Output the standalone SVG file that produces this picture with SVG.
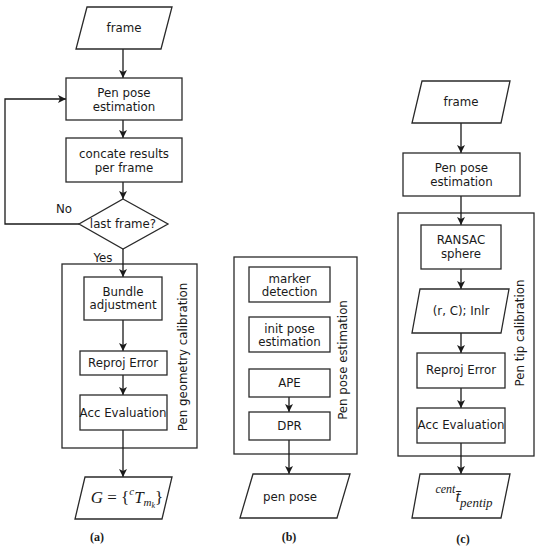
<svg xmlns="http://www.w3.org/2000/svg" width="540" height="550" viewBox="0 0 540 550">
<defs>
<marker id="arr" viewBox="0 0 10 10" refX="10" refY="5" markerWidth="8" markerHeight="8" markerUnits="userSpaceOnUse" orient="auto">
<path d="M0,0 L10,5 L0,10 L2.5,5 z" fill="#1a1a1a"/>
</marker>
<style>
.b{fill:#fff;stroke:#2a2a2a;stroke-width:1.3}
.c{fill:none;stroke:#2a2a2a;stroke-width:1.3}
.t{font-family:"DejaVu Sans",Verdana,sans-serif;font-size:11.8px;fill:#1a1a1a;text-anchor:middle}
.m{font-family:"Liberation Serif","Times New Roman",serif;font-style:italic;font-size:17px;fill:#1a1a1a;text-anchor:middle}
.lab{font-family:"Liberation Serif","Times New Roman",serif;font-weight:bold;font-size:12px;fill:#1a1a1a;text-anchor:middle}
.e{fill:none;stroke:#1a1a1a;stroke-width:1.3;marker-end:url(#arr)}
</style>
</defs>
<rect width="540" height="550" fill="#fff"/>

<!-- containers -->
<g id="cont-a"><rect class="c" x="62" y="264" width="135" height="184"/><text class="t" transform="translate(187,357) rotate(-90)">Pen geometry calibration</text></g>
<g id="cont-b"><rect class="c" x="234" y="257" width="123" height="197"/><text class="t" transform="translate(347,360) rotate(-90)">Pen pose estimation</text></g>
<g id="cont-c"><rect class="c" x="398" y="213" width="136" height="243"/><text class="t" transform="translate(524,333) rotate(-90)">Pen tip calibration</text></g>

<!-- connectors -->
<g id="connectors">
<line class="e" x1="123" y1="49" x2="123" y2="78"/>
<line class="e" x1="123" y1="120" x2="123" y2="138"/>
<line class="e" x1="123" y1="182" x2="123" y2="199"/>
<polyline class="e" points="79,224 5,224 5,99 66,99"/>
<line class="e" x1="123" y1="249" x2="123" y2="277"/>
<line class="e" x1="123" y1="320" x2="123" y2="351"/>
<line class="e" x1="123" y1="375" x2="123" y2="395"/>
<line class="e" x1="123" y1="430" x2="123" y2="477"/>
<line class="e" x1="289" y1="397" x2="289" y2="412"/>
<line class="e" x1="289" y1="440" x2="289" y2="474"/>
<line class="e" x1="461" y1="123" x2="461" y2="153"/>
<line class="e" x1="461" y1="196" x2="461" y2="225"/>
<line class="e" x1="461" y1="269" x2="461" y2="289"/>
<line class="e" x1="461" y1="333" x2="461" y2="353"/>
<line class="e" x1="461" y1="388" x2="461" y2="408"/>
<line class="e" x1="461" y1="443" x2="461" y2="474"/>
<text class="t" x="64" y="213">No</text>
<text class="t" x="103" y="262">Yes</text>
</g>

<!-- panel a -->
<g id="a-frame"><polygon class="b" points="87,7 172,7 161,49 76,49"/><text class="t" x="124" y="32">frame</text></g>
<g id="a-pose"><rect class="b" x="66" y="78" width="116" height="42"/><text class="t" x="124" y="97">Pen pose</text><text class="t" x="124" y="111">estimation</text></g>
<g id="a-concat"><rect class="b" x="66" y="138" width="116" height="44"/><text class="t" x="124" y="158">concate results</text><text class="t" x="124" y="172">per frame</text></g>
<g id="a-last"><polygon class="b" points="123,199 168,224 123,249 79,224"/><text class="t" x="123" y="228">last frame?</text></g>
<g id="a-bundle"><rect class="b" x="84" y="277" width="78" height="43"/><text class="t" x="123" y="296">Bundle</text><text class="t" x="123" y="309">adjustment</text></g>
<g id="a-reproj"><rect class="b" x="80" y="351" width="87" height="24"/><text class="t" x="123" y="367">Reproj Error</text></g>
<g id="a-acc"><rect class="b" x="80" y="395" width="87" height="35"/><text class="t" x="123" y="417">Acc Evaluation</text></g>
<g id="a-out"><polygon class="b" points="85,477 172,477 162,519 75,519"/>
<text class="m" x="127" y="503">G<tspan font-style="normal"> = {</tspan><tspan font-size="11" dy="-8">c</tspan><tspan dy="8">T</tspan><tspan font-size="11" dy="3">m</tspan><tspan font-size="8" dy="2">k</tspan><tspan font-style="normal" dy="-5">}</tspan></text></g>
<text class="lab" x="97" y="541">(a)</text>

<!-- panel b -->
<g id="b-marker"><rect class="b" x="249" y="267" width="81" height="35"/><text class="t" x="289.5" y="283">marker</text><text class="t" x="289.5" y="296">detection</text></g>
<g id="b-init"><rect class="b" x="249" y="317" width="81" height="35"/><text class="t" x="289.5" y="333">init pose</text><text class="t" x="289.5" y="346">estimation</text></g>
<g id="b-ape"><rect class="b" x="249" y="369" width="81" height="28"/><text class="t" x="289.5" y="387">APE</text></g>
<g id="b-dpr"><rect class="b" x="249" y="412" width="81" height="28"/><text class="t" x="289.5" y="430">DPR</text></g>
<g id="b-out"><polygon class="b" points="253,474 350,474 337,518 240,518"/><text class="t" x="290" y="501">pen pose</text></g>
<text class="lab" x="289" y="541">(b)</text>

<!-- panel c -->
<g id="c-frame"><polygon class="b" points="422,81 510,81 501,123 412,123"/><text class="t" x="461" y="106">frame</text></g>
<g id="c-pose"><rect class="b" x="403" y="153" width="117" height="43"/><text class="t" x="461.5" y="172">Pen pose</text><text class="t" x="461.5" y="186">estimation</text></g>
<g id="c-ransac"><rect class="b" x="421" y="225" width="80" height="44"/><text class="t" x="461" y="244">RANSAC</text><text class="t" x="461" y="258">sphere</text></g>
<g id="c-rc"><polygon class="b" points="420,289 509,289 501,333 412,333"/><text class="t" x="461" y="315">(r, C); Inlr</text></g>
<g id="c-reproj"><rect class="b" x="417" y="353" width="88" height="35"/><text class="t" x="461" y="374">Reproj Error</text></g>
<g id="c-acc"><rect class="b" x="417" y="408" width="88" height="35"/><text class="t" x="461" y="429">Acc Evaluation</text></g>
<g id="c-out"><polygon class="b" points="420,474 510,474 501,518 412,518"/>
<text class="m" x="464" y="502"><tspan font-size="12" dy="-9">cent</tspan><tspan font-size="17" dy="9">t̄</tspan><tspan font-size="13" dy="5">pentip</tspan></text></g>
<text class="lab" x="463" y="543">(c)</text>
</svg>
